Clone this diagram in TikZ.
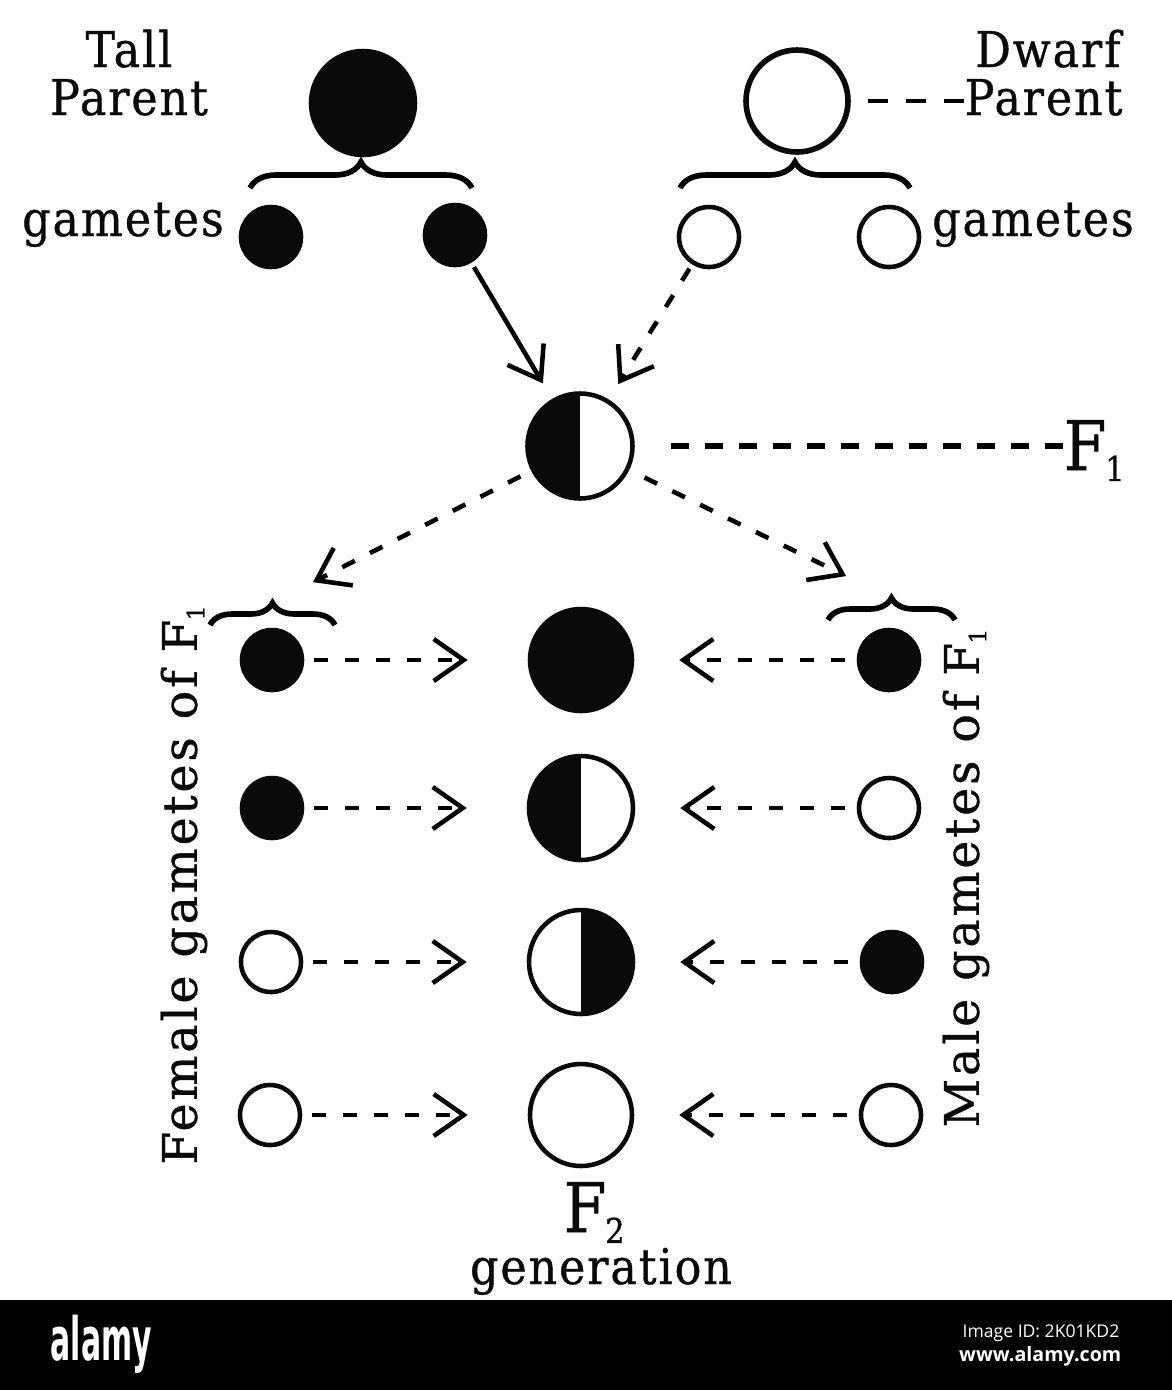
\documentclass[tikz,border=0pt]{standalone}
\usepackage{fontspec}
\setmainfont{DejaVu Serif}[FakeStretch=0.9, LetterSpace=4, FakeBold=0.8]
\newfontfamily\sidefont{DejaVu Serif}[LetterSpace=6, FakeBold=0.8]
\newfontfamily\logofont{DejaVu Sans}[FakeStretch=0.5]
\newfontfamily\markfont{Open Sans}
\usepackage{xcolor}
\usepackage{graphicx}
\usepackage{tikz}
\usetikzlibrary{calc,positioning,arrows.meta,decorations.pathreplacing}
\definecolor{figInk}{HTML}{0A0A0A}
\newcommand{\gen}[1]{F\kern-0.02em\raisebox{-0.16em}{\scalebox{0.5}{#1}}}

\begin{document}
\begin{tikzpicture}[
  every node/.style={font=\fontsize{14}{16}\selectfont, text=figInk, inner sep=0pt},
  ball/.style={circle, draw=figInk, line width=1.3pt, inner sep=0pt, minimum size=#1},
  ball/.default=6mm,
  full/.style={ball=#1, fill=figInk},
  full/.default=6mm,
  halfl/.style={ball=#1, path picture={\fill[figInk] (path picture bounding box.north west) rectangle (path picture bounding box.south);}},
  halfl/.default=10.4mm,
  halfr/.style={ball=#1, path picture={\fill[figInk] (path picture bounding box.north) rectangle (path picture bounding box.south east);}},
  halfr/.default=10.4mm,
  dashline/.style={line width=1.3pt, dash pattern=on 1.4mm off 1.7mm},
  arrow/.style={-{Straight Barb[length=3mm, width=4.2mm]}, line width=1.3pt, #1},
  arrow/.default=dashline,
  fromleft/.style={arrow, shorten <=1mm, shorten >=6mm},
  fromright/.style={arrow, shorten <=1.2mm, shorten >=4.5mm},
  brace/.style={decorate, decoration={brace, amplitude=#1}, line width=1.6pt},
  brace/.default=2.6mm,
  side/.style={rotate=90, font=\sidefont\fontsize{13.5}{16}\selectfont},
  genlab/.style={font=\fontsize{19.5}{22}\selectfont},
]
\useasboundingbox (0,0) rectangle (11.72,-13.90);

% === parents ===
\node[anchor=base] (tall-name) at (1.29,-0.67) {Tall};
\node[anchor=base] (tall-par) at (1.29,-1.15) {Parent};
\node[full=10.4mm] (tall) at (3.63,-1.03) {};

\node[anchor=base] (dwarf-name) at (10.48,-0.67) {Dwarf};
\node[anchor=base west] (dwarf-par) at (9.64,-1.15) {Parent};
\node[ball=10.2mm, line width=1.6pt] (dwarf) at (7.97,-1.01) {};
\draw[line width=1.2pt, dash pattern=on 2mm off 1.8mm, shorten >=0.5mm] (dwarf -| dwarf-par.west) -- (dwarf);

% === gametes of the parents ===
\node[full] (tg1) at (2.71,-2.37) {};
\node[full] (tg2) at (4.55,-2.35) {};
\node[ball] (dg1) at (7.09,-2.37) {};
\node[ball] (dg2) at (8.89,-2.37) {};
\node[anchor=base] (tg-lab) at (1.23,-2.36) {gametes};
\node[anchor=base] (dg-lab) at (10.33,-2.36) {gametes};
\draw[brace] (2.50,-1.88) -- (4.72,-1.88);
\draw[brace] (6.80,-1.88) -- (9.10,-1.88);

% === F1 ===
\node[halfl=10.5mm] (f1) at (5.80,-4.46) {};
\node[genlab, anchor=base west] (f1-lab) at (10.63,-4.70) {\gen{1}};
\draw[line width=1.5pt, dash pattern=on 1.8mm off 1.6mm, shorten >=3mm] (f1 -| f1-lab.west) -- (f1);
\draw[arrow=solid, shorten <=0.5mm, shorten >=1.8mm] (tg2) -- (f1);
\draw[arrow, shorten <=0.5mm, shorten >=1.8mm] (dg1) -- (f1);

\coordinate (lb) at (2.72,-6.03);
\coordinate (rb) at (8.91,-5.98);
\draw[brace=2.2mm] (2.10,-6.25) -- (3.35,-6.25);
\draw[brace=2.2mm] (8.28,-6.20) -- (9.55,-6.20);
\draw[arrow, shorten <=1.2mm, shorten >=4.6mm] (f1) -- (lb);
\draw[arrow, shorten <=1.7mm, shorten >=5mm] (f1) -- (rb);

% === F2 ===
\node[full] (fem1) at (2.72,-6.60) {};
\node[full] (fem2) at (2.72,-8.08) {};
\node[ball] (fem3) at (2.71,-9.62) {};
\node[ball] (fem4) at (2.70,-11.15) {};

\node[full=10.2mm] (f2a) at (5.81,-6.60) {};
\node[halfl] (f2b) at (5.81,-8.08) {};
\node[halfr] (f2c) at (5.81,-9.62) {};
\node[ball=10.2mm] (f2d) at (5.81,-11.15) {};

\node[full] (mal1) at (8.89,-6.60) {};
\node[ball] (mal2) at (8.89,-8.08) {};
\node[full] (mal3) at (8.92,-9.62) {};
\node[ball] (mal4) at (8.91,-11.15) {};

\draw[fromleft] (fem1) -- (f2a);
\draw[fromleft] (fem2) -- (f2b);
\draw[fromleft] (fem3) -- (f2c);
\draw[fromleft] (fem4) -- (f2d);
\draw[fromright] (mal1) -- (f2a);
\draw[fromright] (mal2) -- (f2b);
\draw[fromright] (mal3) -- (f2c);
\draw[fromright] (mal4) -- (f2d);

\node[side] (fem-lab) at (1.84,-8.85) {Female gametes of \gen{1}};
\node[side] (mal-lab) at (9.66,-8.78) {Male gametes of \gen{1}};
\node[genlab, anchor=base west] (f2-lab) at (5.63,-12.32) {\gen{2}};
\node[anchor=base] (f2-gen) at (6.01,-12.84) {generation};

% === footer ===
\fill[black] (0,-13.00) rectangle (11.72,-13.90);
\node[text=white, font=\logofont\bfseries\fontsize{17}{17}\selectfont, anchor=base west] (mark) at (0.50,-13.60) {alamy};
\node[text=white, font=\markfont\fontsize{5}{6}\selectfont, anchor=base east] (mark-id) at (11.20,-13.37) {Image ID: 2K01KD2};
\node[text=white, font=\markfont\bfseries\fontsize{5.6}{6}\selectfont, anchor=base east] (mark-url) at (11.22,-13.615) {www.alamy.com};
\end{tikzpicture}
\end{document}
